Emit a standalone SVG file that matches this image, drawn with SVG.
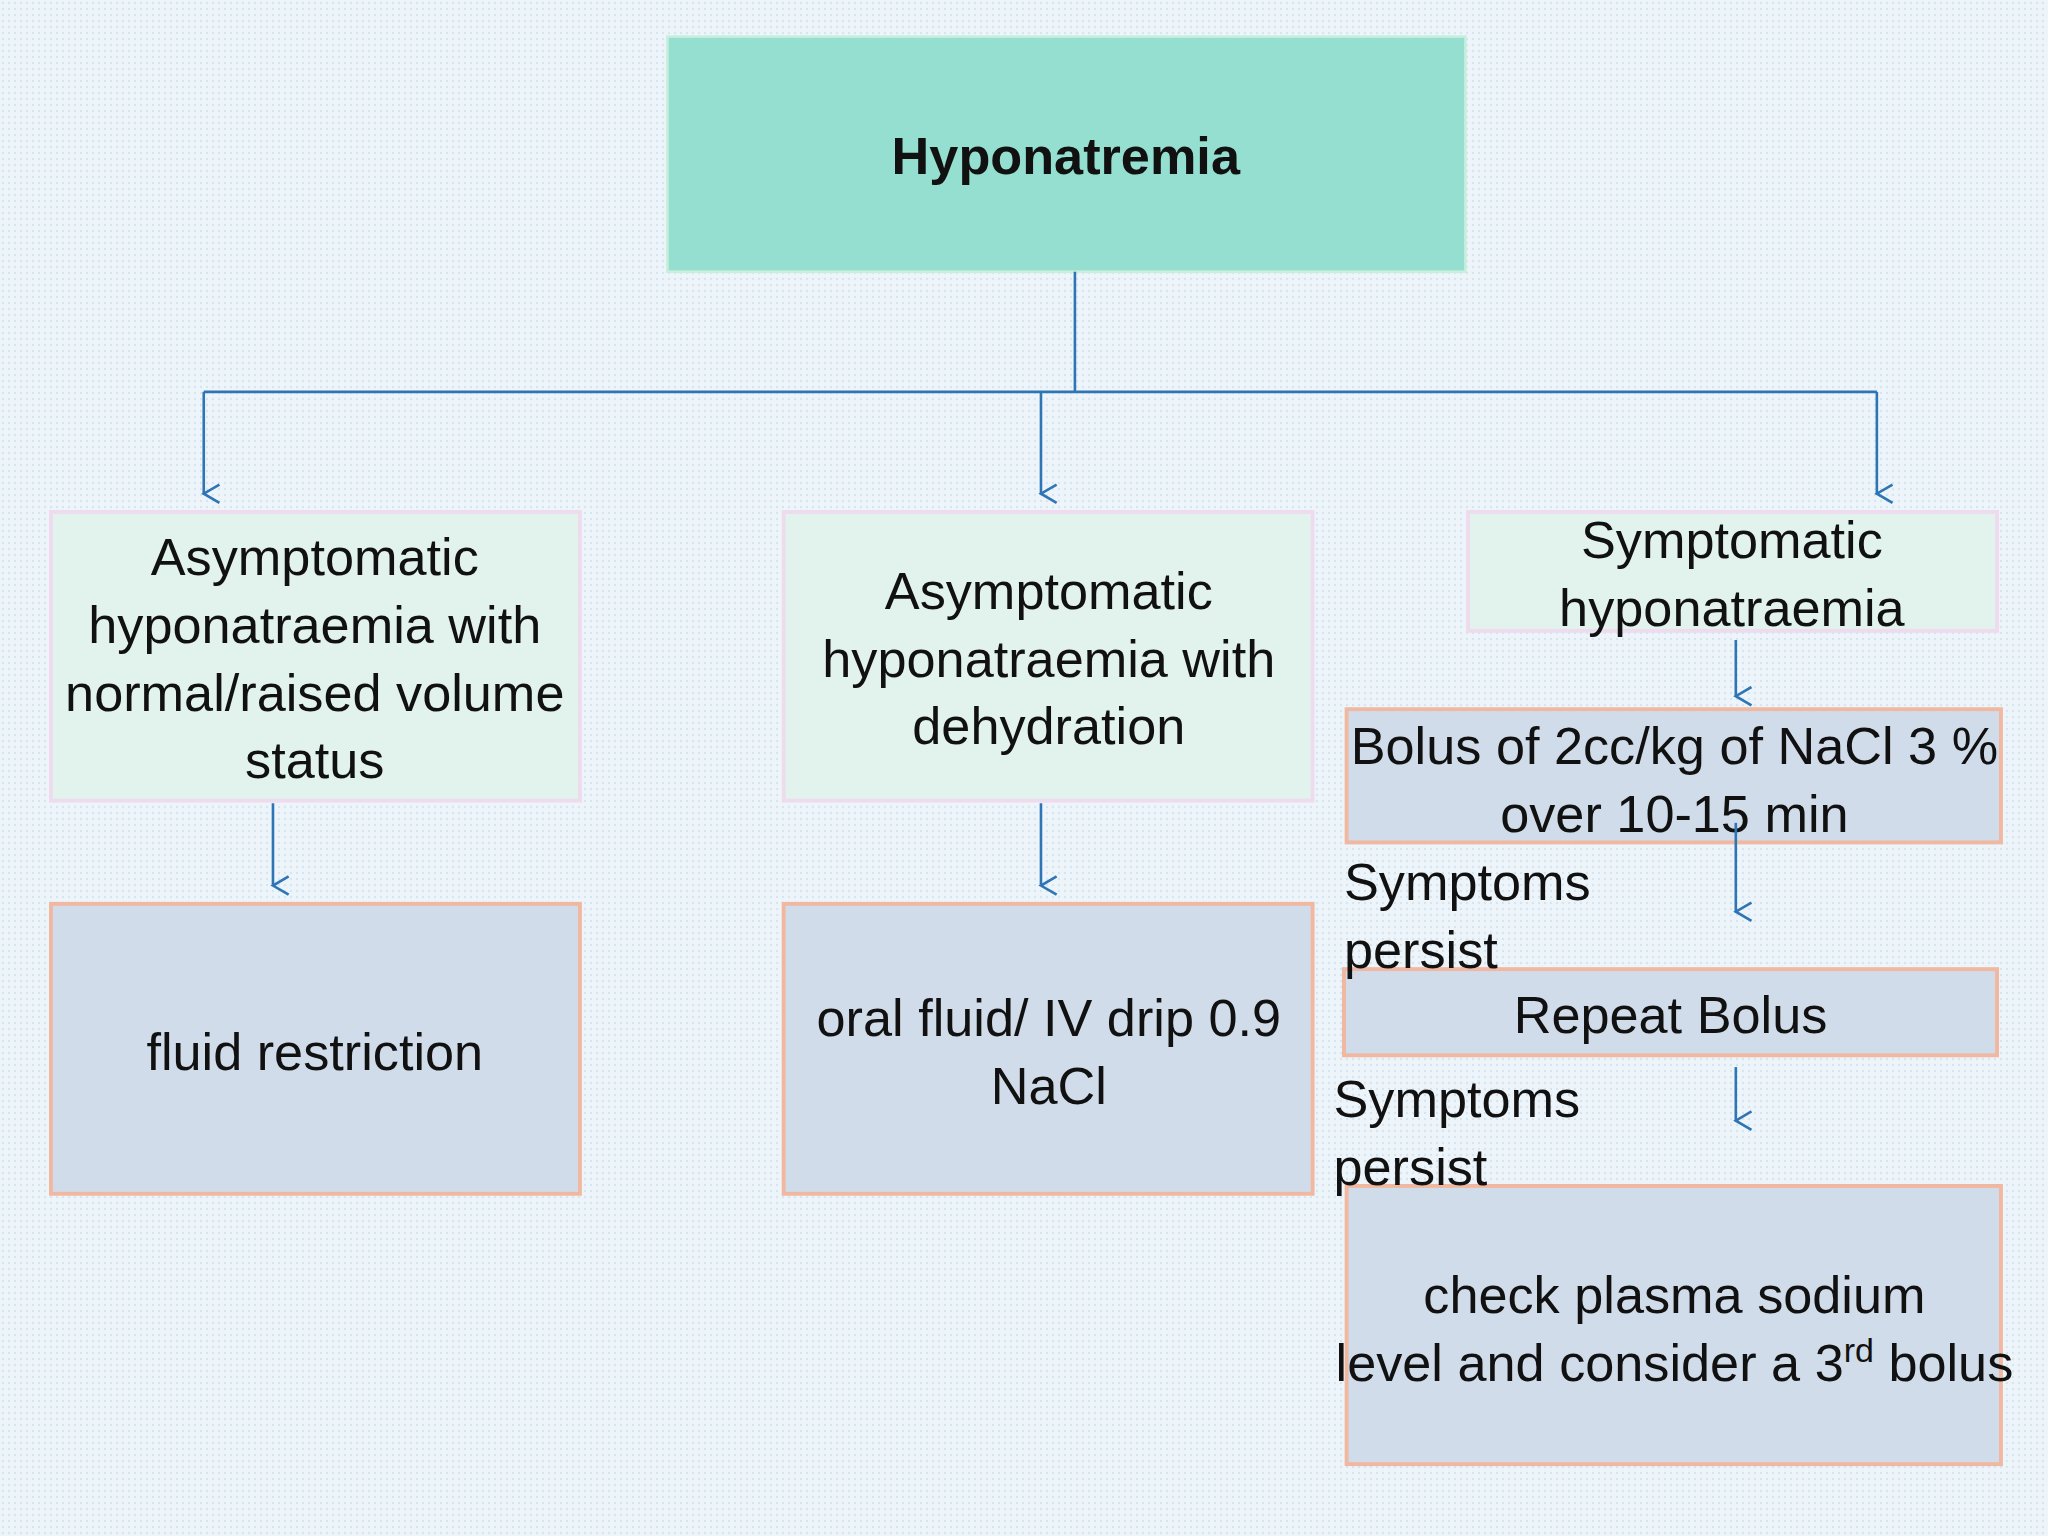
<svg xmlns="http://www.w3.org/2000/svg" width="2048" height="1536" viewBox="0 0 2048 1536">
<defs>
<style>
.t{font-family:"Liberation Sans Narrow","Liberation Sans",Arial,sans-serif;font-size:40px;fill:#111;text-anchor:middle}
.g{fill:#e2f3ee;stroke:#eedcee;stroke-width:3}
.b{fill:#d1dcea;stroke:#f0b8a0;stroke-width:3}
.c{stroke:#2e75b6;stroke-width:2;fill:none}
</style>
<marker id="a" markerWidth="16" markerHeight="16" refX="8" refY="14" orient="auto" markerUnits="userSpaceOnUse"><path d="M1,2 L8,14 L15,2" fill="none" stroke="#2e75b6" stroke-width="2"/></marker>
<pattern id="p" width="6" height="6" patternUnits="userSpaceOnUse"><rect width="6" height="6" fill="#eef5fa"/><circle cx="3" cy="3" r="1.2" fill="#d6e6f1"/></pattern>
</defs>
<rect width="2048" height="1536" fill="url(#p)"/>
<g transform="scale(1.3061)">
<g id="root"><rect x="511" y="28" width="611" height="180" fill="#94dfd0" stroke="#c8eedc" stroke-width="2"/><text class="t" x="816" y="133" style="font-weight:bold">Hyponatremia</text></g>
<g id="n1"><rect class="g" x="39" y="392" width="405" height="221"/><text class="t" x="241" y="440">Asymptomatic</text><text class="t" x="241" y="492">hyponatraemia with</text><text class="t" x="241" y="544">normal/raised volume</text><text class="t" x="241" y="596">status</text></g>
<g id="n2"><rect class="g" x="600" y="392" width="405" height="221"/><text class="t" x="803" y="466">Asymptomatic</text><text class="t" x="803" y="518">hyponatraemia with</text><text class="t" x="803" y="570">dehydration</text></g>
<g id="n3"><rect class="g" x="1124" y="392" width="405" height="91"/><text class="t" x="1326" y="427">Symptomatic</text><text class="t" x="1326" y="479">hyponatraemia</text></g>
<g id="n4"><rect class="b" x="39" y="692" width="405" height="222"/><text class="t" x="241" y="819">fluid restriction</text></g>
<g id="n5"><rect class="b" x="600" y="692" width="405" height="222"/><text class="t" x="803" y="793">oral fluid/ IV drip 0.9</text><text class="t" x="803" y="845">NaCl</text></g>
<g id="n6"><rect class="b" x="1031" y="543" width="501" height="102"/><text class="t" x="1282" y="585">Bolus of 2cc/kg of NaCl 3 %</text><text class="t" x="1282" y="637">over 10-15 min</text></g>
<g id="n7"><rect class="b" x="1029" y="742" width="500" height="66"/><text class="t" x="1279" y="791">Repeat Bolus</text></g>
<g id="n8"><rect class="b" x="1031" y="908" width="501" height="213"/><text class="t" x="1282" y="1005">check plasma sodium</text><text class="t" x="1282" y="1057">level and consider a 3<tspan font-size="26" dy="-14">rd</tspan><tspan dy="14"> bolus</tspan></text></g>
<g id="labels"><text class="t" x="1029" y="689" style="text-anchor:start">Symptoms</text><text class="t" x="1029" y="741" style="text-anchor:start">persist</text><text class="t" x="1021" y="855" style="text-anchor:start">Symptoms</text><text class="t" x="1021" y="907" style="text-anchor:start">persist</text></g>
<g id="connectors">
<path class="c" d="M823,208 V300 M156,300 H1437"/>
<path class="c" d="M156,300 V378" marker-end="url(#a)"/>
<path class="c" d="M797,300 V378" marker-end="url(#a)"/>
<path class="c" d="M1437,300 V378" marker-end="url(#a)"/>
<path class="c" d="M209,615 V678" marker-end="url(#a)"/>
<path class="c" d="M797,615 V678" marker-end="url(#a)"/>
<path class="c" d="M1329,490 V533" marker-end="url(#a)"/>
<path class="c" d="M1329,630 V698" marker-end="url(#a)"/>
<path class="c" d="M1329,817 V858" marker-end="url(#a)"/>
</g>
</g>
</svg>
